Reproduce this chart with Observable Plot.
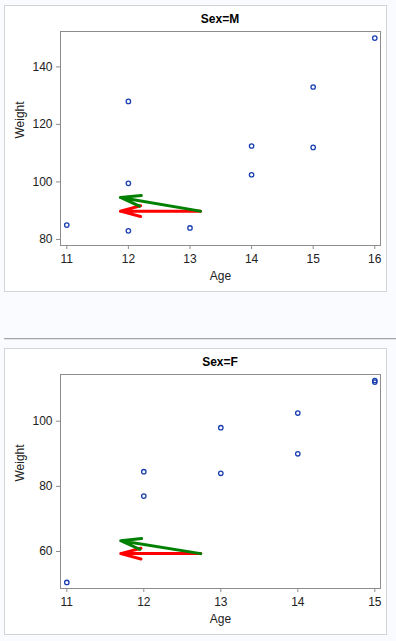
<!DOCTYPE html>
<html><head><meta charset="utf-8">
<script src="https://cdn.jsdelivr.net/npm/d3@7"></script>
<script src="https://cdn.jsdelivr.net/npm/@observablehq/plot@0.6"></script>
<style>
html,body{margin:0;padding:0;background:#fafbfe;width:396px;height:641px;overflow:hidden;font-family:"Liberation Sans",Arial,sans-serif;}
.box{position:absolute;left:4px;width:381px;height:285px;background:#fff;border:1px solid #d2d4d8;}
.title{position:absolute;left:55px;width:320px;top:5px;text-align:center;font-weight:bold;font-size:12px;line-height:16px;color:#000;}
.chart{position:absolute;left:0;top:18px;}
.sep{position:absolute;left:4px;right:0;top:338px;height:1px;background:#a3a3a3;border-bottom:1px solid #e4e6ea;}
</style></head><body>
<div class="box" id="box1" style="top:5px"><div class="title" id="t1"></div><div class="chart" id="c1"></div></div>
<div class="sep"></div>
<div class="box" id="box2" style="top:348px"><div class="title" id="t2"></div><div class="chart" id="c2"></div></div>
<script>
const panelTitles = ["Sex=M", "Sex=F"];
const xLabel = "Age";
const yLabel = "Weight";

const ageM = [14, 14, 12, 13, 12, 16, 12, 15, 11, 15];
const weightM = [112.5, 102.5, 83, 84, 99.5, 150, 128, 133, 85, 112];
const ageF = [13, 13, 14, 12, 15, 11, 14, 12, 15];
const weightF = [84, 98, 102.5, 84.5, 112.5, 50.5, 90, 77, 112];

const xTicksM = [11, 12, 13, 14, 15, 16];
const yTicksM = [80, 100, 120, 140];
const xTicksF = [11, 12, 13, 14, 15];
const yTicksF = [60, 80, 100];

const xDomainM = [10.898, 16.093];
const yDomainM = [77.9, 152.3];
const xDomainF = [10.918, 15.074];
const yDomainF = [48.64, 114.34];

// arrows: [M, F]
const arrowTailAge = [13.17, 12.74];
const arrowHeadAge = [11.87, 11.70];
const arrowTailWeight = [89.85, 59.35];
const redHeadWeight = [89.85, 59.35];
const greenHeadWeight = [94.6, 63.3];

const FONT = '"Liberation Sans", Arial, sans-serif';

function panel(i, ages, weights, xd, yd, xt, yt) {
  const pts = ages.map((a, j) => ({age: a, weight: weights[j]}));
  return Plot.plot({
    width: 381, height: 267,
    marginLeft: 55, marginRight: 6, marginTop: 7, marginBottom: 46,
    x: {domain: xd}, y: {domain: yd},
    style: {fontFamily: FONT, fontSize: "12px", color: "#222", background: "transparent"},
    marks: [
      Plot.frame({stroke: "#8c8c8c"}),
      Plot.axisX({ticks: xt, tickFormat: d => String(d), tickSize: 4, tickPadding: 5, stroke: "#8c8c8c", fill: "#222", label: null, fontSize: 12}),
      Plot.axisY({ticks: yt, tickFormat: d => String(d), tickSize: 4, tickPadding: 4, stroke: "#8c8c8c", fill: "#222", label: null, fontSize: 12}),
      Plot.text([xLabel], {frameAnchor: "bottom", dy: 34, text: d => d, fontSize: 12, fill: "#222"}),
      Plot.text([yLabel], {frameAnchor: "left", dx: -40.5, rotate: -90, text: d => d, fontSize: 12, fill: "#222"}),
      Plot.arrow([0], {x1: () => arrowTailAge[i], y1: () => arrowTailWeight[i], x2: () => arrowHeadAge[i], y2: () => redHeadWeight[i],
        stroke: "#ff0000", strokeWidth: 3, headAngle: 30, headLength: 10.5}),
      Plot.arrow([0], {x1: () => arrowTailAge[i], y1: () => arrowTailWeight[i], x2: () => arrowHeadAge[i], y2: () => greenHeadWeight[i],
        stroke: "#008000", strokeWidth: 3, headAngle: 30, headLength: 10.5}),
      Plot.dot(pts, {x: "age", y: "weight", r: 2.2, stroke: "#1a40b0", strokeWidth: 1.3, fill: "none"})
    ]
  });
}

document.getElementById("t1").textContent = panelTitles[0];
document.getElementById("t2").textContent = panelTitles[1];
document.getElementById("c1").appendChild(panel(0, ageM, weightM, xDomainM, yDomainM, xTicksM, yTicksM));
document.getElementById("c2").appendChild(panel(1, ageF, weightF, xDomainF, yDomainF, xTicksF, yTicksF));
</script>
</body></html>
